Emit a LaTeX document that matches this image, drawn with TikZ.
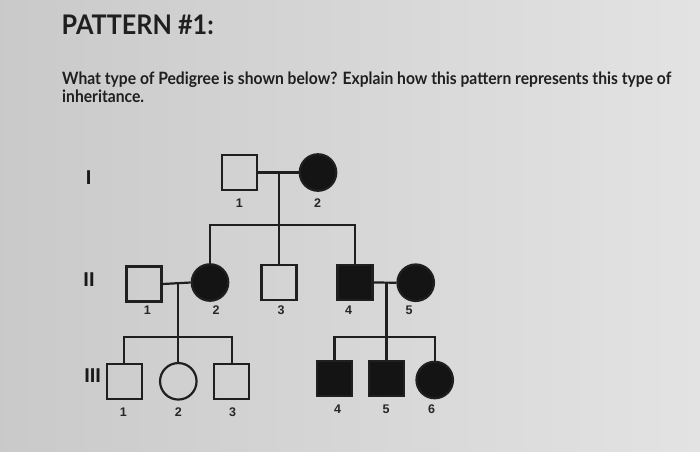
\documentclass[tikz,border=0pt]{standalone}
\usepackage{fontspec}
\usepackage{graphicx}
\setmainfont{Lato}
\newfontfamily\labelfont{Liberation Sans}
\begin{document}
\begin{tikzpicture}[x=1pt,y=-1pt,
  ink/.style={draw=black!88, line width=2.2pt},
  msq/.style={rectangle, ink, minimum size=35pt, inner sep=0pt},
  fcirc/.style={circle, ink, minimum size=36.5pt, inner sep=0pt},
  aff/.style={fill=black!92},
  num/.style={font=\labelfont\bfseries\fontsize{12.5}{12.5}\selectfont, inner sep=0pt, text=black!85},
  gen/.style={font=\labelfont\bfseries\fontsize{20}{20}\selectfont, inner sep=0pt, text=black!90},
  link/.style={draw=black!88, line width=2.2pt},
  txt/.style={inner sep=0pt, text=black!88, anchor=base west}
]
% background
\shade[left color=black!21, right color=black!11] (0,0) rectangle (700,451);
\useasboundingbox (0,0) rectangle (700,451);

% texts
\node[txt, font=\bfseries\fontsize{27}{27}\selectfont] (title) at (61.5,34.3) {\resizebox{152pt}{\height}{PATTERN \#1:}};
\node[txt, font=\bfseries\fontsize{17}{17.4}\selectfont] (q) at (62,84.3)
  {\resizebox{609pt}{\height}{\begin{tabular}[t]{@{}l@{}}What type of Pedigree is shown below? Explain how this pattern represents this type of\\ inheritance.\end{tabular}}};

% generation labels
\node[gen] (gI) at (88.7,177.5) {I};
\node[gen] (gII) at (89,280) {II};
\node[gen] (gIII) at (92.7,375.3) {III};

% generation I
\node[msq] (I1) at (239.5,172.5) {};
\node[fcirc, aff] (I2) at (318,172.5) {};
% generation II
\node[msq] (II1) at (144,284) {};
\node[fcirc, aff] (II2) at (210,282.5) {};
\node[msq] (II3) at (279,282.5) {};
\node[msq, aff] (II4) at (355,282.5) {};
\node[fcirc, aff] (II5) at (415.7,282.7) {};
% generation III
\node[msq] (III1) at (124.3,381.7) {};
\node[fcirc] (III2) at (178.3,381.3) {};
\node[msq] (III3) at (231.7,381.7) {};
\node[msq, aff] (III4) at (334.5,378.7) {};
\node[msq, aff] (III5) at (386.5,378.7) {};
\node[fcirc, aff] (III6) at (434.7,380) {};

% connector points
\coordinate (m1) at (279,172.5);
\coordinate (s1) at (279,225);
\coordinate (m2) at (178.3,284);
\coordinate (s2) at (178.3,337.3);
\coordinate (m3) at (386.5,283.3);
\coordinate (s3) at (386.5,336.7);

% family I
\draw[link] (I1.east) -- (I2.west);
\draw[link] (m1) -- (s1);
\draw[link, line cap=rect] (II2 |- s1) -- (II4 |- s1);
\draw[link] (II2 |- s1) -- (II2.north);
\draw[link] (s1) -- (II3.north);
\draw[link] (II4 |- s1) -- (II4.north);
% family II1-II2
\draw[link] (II1.east) -- (II2.west);
\draw[link] (m2) -- (s2);
\draw[link, line cap=rect] (III1 |- s2) -- (III3 |- s2);
\draw[link] (III1 |- s2) -- (III1.north);
\draw[link] (s2) -- (III2.north);
\draw[link] (III3 |- s2) -- (III3.north);
% family II4-II5
\draw[link] (II4.east) -- (II5.west);
\draw[link] (m3) -- (s3);
\draw[link, line cap=rect] (III4 |- s3) -- (III6 |- s3);
\draw[link] (III4 |- s3) -- (III4.north);
\draw[link] (s3) -- (III5.north);
\draw[link] (III6 |- s3) -- (III6.north);

% individual numbers
\node[num] (nI1) at (239.3,202.7) {1};
\node[num] (nI2) at (317.7,203) {2};
\node[num] (nII1) at (147.3,310) {1};
\node[num] (nII2) at (216,310) {2};
\node[num] (nII3) at (281,310) {3};
\node[num] (nII4) at (348.7,310) {4};
\node[num] (nII5) at (409,310) {5};
\node[num] (nIII1) at (123.3,412.3) {1};
\node[num] (nIII2) at (178.3,412.3) {2};
\node[num] (nIII3) at (232.7,412.3) {3};
\node[num] (nIII4) at (337.7,409) {4};
\node[num] (nIII5) at (386,409) {5};
\node[num] (nIII6) at (431.7,409) {6};
\end{tikzpicture}
\end{document}
